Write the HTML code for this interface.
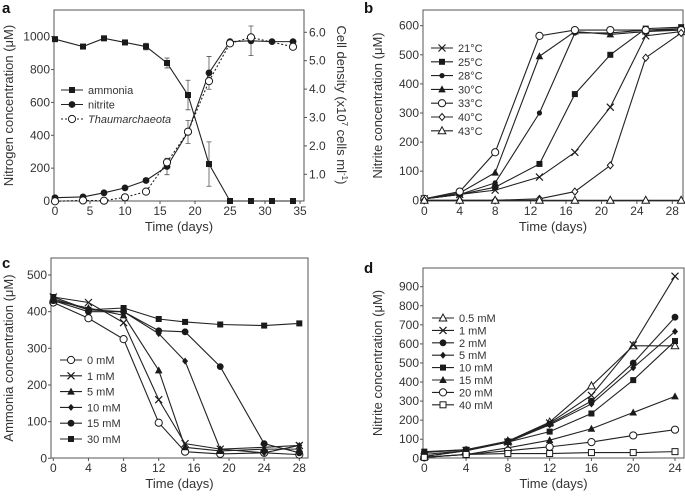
<!DOCTYPE html>
<html><head><meta charset="utf-8"><style>
body{margin:0;background:#fff}
svg{display:block;font-family:"Liberation Sans",sans-serif}
</style></head><body>
<svg id="s" width="685" height="497" viewBox="0 0 685 497"></svg>
<script>
// ---- Panel a data ----
const aDaysA=[0,4,7,10,13,16,19,22,25,28,31,34];
const aAmmonia=[985,940,990,965,940,840,645,225,0,0,0,0];
const aAmmErr=[0,0,0,0,20,30,90,135,0,0,0,0];
const aNitrite=[20,25,50,80,125,210,420,780,970,975,970,970];
const aNitErr=[0,0,0,0,0,50,70,100,0,90,0,0];
const aDaysT=[0,4,7,10,13,16,19,22,25,28,34];
const aThaum=[0.05,0.08,0.07,0.19,0.39,1.42,2.5,4.28,5.61,5.82,5.49];
const aXTicks=[0,5,10,15,20,25,30,35];
const aYTicks=[0,200,400,600,800,1000];
const aRTicks=[1,2,3,4,5,6];
// ---- Panel b data ----
const bDays=[0,4,8,13,17,21,25,29];
const bLabels=["21°C","25°C","28°C","30°C","33°C","40°C","43°C"];
const b21=[5,20,35,80,165,320,565,580];
const b25=[5,20,45,125,365,500,590,595];
const b28=[5,20,60,300,575,575,585,590];
const b30=[5,25,95,495,580,570,580,585];
const b33=[5,30,165,565,585,585,585,585];
const b40=[0,0,0,5,30,120,490,575];
const b43=[0,0,0,0,0,0,0,0];
const bXTicks=[0,4,8,12,16,20,24,28];
const bYTicks=[0,100,200,300,400,500,600];
// ---- Panel c data ----
const cDays=[0,4,8,12,15,19,24,28];
const cLabels=["0 mM","1 mM","5 mM","10 mM","15 mM","30 mM"];
const c0=[425,382,325,97,18,12,15,10];
const c1=[440,425,370,160,40,25,30,35];
const c5=[430,410,390,240,30,20,25,25];
const c10=[435,405,400,340,265,25,15,35];
const c15=[430,400,400,348,345,250,40,15];
const c30=[440,405,410,380,372,365,362,368];
const cXTicks=[0,4,8,12,16,20,24,28];
const cYTicks=[0,100,200,300,400,500];
// ---- Panel d data ----
const dDays=[0,4,8,12,16,20,24];
const dLabels=["0.5 mM","1 mM","2 mM","5 mM","10 mM","15 mM","20 mM","40 mM"];
const d05=[10,40,90,190,380,590,590];
const d1=[10,40,85,185,330,595,955];
const d2=[30,45,90,180,300,500,740];
const d5=[20,40,85,175,285,475,665];
const d10=[35,45,85,140,235,410,615];
const d15=[5,20,55,95,155,240,325];
const d20=[5,20,40,60,85,120,150];
const d40=[5,20,25,25,30,30,35];
const dXTicks=[0,4,8,12,16,20,24];
const dYTicks=[0,100,200,300,400,500,600,700,800,900];

const NS="http://www.w3.org/2000/svg";
const S=document.getElementById('s');
function el(tag,attrs,parent,text){const e=document.createElementNS(NS,tag);for(const k in attrs)e.setAttribute(k,attrs[k]);if(text!==undefined)e.textContent=text;(parent||S).appendChild(e);return e;}
function lin(d0,d1,p0,p1){return v=>p0+(v-d0)*(p1-p0)/(d1-d0);}

function marker(g,type,x,y){
  const c='#1a1a1a';
  let m;
  if(type==='sq'){m=el('rect',{x:x-3,y:y-3,width:6,height:6,fill:c},g);}
  else if(type==='osq'){m=el('rect',{x:x-3,y:y-3,width:6,height:6,fill:'#fff',stroke:c,'stroke-width':1},g);}
  else if(type==='ci'){m=el('circle',{cx:x,cy:y,r:3.4,fill:c},g);}
  else if(type==='oci'){m=el('circle',{cx:x,cy:y,r:3.6,fill:'#fff',stroke:c,'stroke-width':1},g);}
  else if(type==='sci'){m=el('circle',{cx:x,cy:y,r:2.6,fill:c},g);}
  else if(type==='tri'){m=el('polygon',{points:`${x},${y-4} ${x-3.8},${y+3} ${x+3.8},${y+3}`,fill:c},g);}
  else if(type==='otri'){m=el('polygon',{points:`${x},${y-4} ${x-3.8},${y+3} ${x+3.8},${y+3}`,fill:'#fff',stroke:c,'stroke-width':1},g);}
  else if(type==='dia'){m=el('polygon',{points:`${x},${y-3.5} ${x+3},${y} ${x},${y+3.5} ${x-3},${y}`,fill:c},g);}
  else if(type==='odia'){m=el('polygon',{points:`${x},${y-3.5} ${x+3},${y} ${x},${y+3.5} ${x-3},${y}`,fill:'#fff',stroke:c,'stroke-width':1},g);}
  else if(type==='x'){m=el('path',{d:`M${x-3.5},${y-3.5}L${x+3.5},${y+3.5}M${x-3.5},${y+3.5}L${x+3.5},${y-3.5}`,stroke:c,'stroke-width':1.2},g);}
  
  
}

function series(name,xs,ys,X,Y,type,dash,err){
  const g=el('g',{},S);
  
  
  if(err){xs.forEach((d,i)=>{if(err[i]>0){const px=X(d);el('path',{d:`M${px},${Y(ys[i]-err[i])}V${Y(ys[i]+err[i])}M${px-2.5},${Y(ys[i]-err[i])}h5M${px-2.5},${Y(ys[i]+err[i])}h5`,stroke:'#555','stroke-width':0.8,fill:'none'},g);}});}
  const pts=xs.map((d,i)=>X(d)+','+Y(ys[i])).join(' ');
  const pl=el('polyline',{points:pts,fill:'none',stroke:'#222','stroke-width':1.1,'stroke-dasharray':dash||'none'},g);
  
  
  xs.forEach((d,i)=>marker(g,type,X(d),Y(ys[i])));
}

function frame(name,l,t,r,b,X,Y,xt,yt,xtitle,ytitle,letter,lx){
  const g=el('g',{},S);
  
  
  el('rect',{x:l,y:t,width:r-l,height:b-t,fill:'none',stroke:'#555','stroke-width':1},g);
  xt.forEach(v=>{const x=X(v);el('line',{x1:x,x2:x,y1:b,y2:b+3,stroke:'#555'},g);
    const tx=el('text',{x:x,y:b+14,'font-size':12,'text-anchor':'middle',fill:'#333'},g,v);
    });
  yt.forEach(v=>{const y=Y(v);el('line',{x1:l-3,x2:l,y1:y,y2:y,stroke:'#555'},g);
    const tx=el('text',{x:l-4,y:y+4,'font-size':12,'text-anchor':'end',fill:'#333'},g,v);
    });
  const xtl=el('text',{x:(l+r)/2,y:b+30,'font-size':13,'text-anchor':'middle',fill:'#333'},g,xtitle);
  
  const ytl=el('text',{x:0,y:0,'font-size':13,'text-anchor':'middle',fill:'#333',transform:`translate(${lx},${(t+b)/2}) rotate(-90)`},g,ytitle);
  
  const lt=el('text',{x:letter[0],y:letter[1],'font-size':15,'font-weight':'bold',fill:'#111'},g,letter[2]);
  
}

function legend(name,x,y,step,labels,types,dashes,italic){
  const g=el('g',{},S);
  
  
  labels.forEach((lb,i)=>{const yy=y+i*step;
    const e=el('g',{},g);
    
    
    el('line',{x1:x,x2:x+22,y1:yy,y2:yy,stroke:'#222','stroke-width':1.1,'stroke-dasharray':dashes?dashes[i]:'none'},e);
    marker(e,types[i],x+11,yy);
    el('text',{x:x+27,y:yy+4,'font-size':11,fill:'#333','font-style':italic&&italic[i]?'italic':'normal'},e,lb);
  });
}

// Panel a
{const X=lin(0,35,55,300),Y=lin(0,1000,201,36.7),Yr=lin(0,6,202.7,32.3);
 frame('panel-a',54,10,304,201,X,Y,aXTicks,aYTicks,'Time (days)','Nitrogen concentration (μM)',[2,13,'a'],13);
 aRTicks.forEach(v=>{const y=Yr(v);el('line',{x1:304,x2:307,y1:y,y2:y,stroke:'#555'});
   const t=el('text',{x:309,y:y+4,'font-size':12,fill:'#333'},S,v.toFixed(1));
   });
 const rt=el('text',{x:0,y:0,'font-size':13,'text-anchor':'middle',fill:'#333',transform:'translate(337,105) rotate(90)'});
 rt.innerHTML='Cell density (x10<tspan font-size="8" dy="-5">7</tspan><tspan dy="5"> cells ml</tspan><tspan font-size="8" dy="-5">-1</tspan><tspan dy="5">)</tspan>';
 
 series('ammonia-series',aDaysA,aAmmonia,X,Y,'sq',null,aAmmErr);
 series('nitrite-series',aDaysA,aNitrite,X,Y,'ci',null,aNitErr);
 series('thaumarchaeota-series',aDaysT,aThaum,X,Yr,'oci','2,2',null);
 legend('legend-a',61,90,14.5,['ammonia','nitrite','Thaumarchaeota'],['sq','ci','oci'],['none','none','2,2'],[0,0,1]);
}
// Panel b
{const X=lin(0,28,424.3,672.3),Y=lin(0,600,200.3,25.7);
 frame('panel-b',423,10,683,201,X,Y,bXTicks,bYTicks,'Time (days)','Nitrite concentration (μM)',[364,13,'b'],382);
 const sets=[b21,b25,b28,b30,b33,b40,b43],types=['x','sq','sci','tri','oci','odia','otri'];
 sets.forEach((s,i)=>series('series-'+bLabels[i].replace('°C','c'),bDays,s,X,Y,types[i],null,null));
 legend('legend-b',431,48,13.8,bLabels,types);
}
// Panel c
{const X=lin(0,28,53.3,299.3),Y=lin(0,500,458.3,275);
 frame('panel-c',51,258,308,458,X,Y,cXTicks,cYTicks,'Time (days)','Ammonia concentration (μM)',[2,268,'c'],13);
 const sets=[c0,c1,c5,c10,c15,c30],types=['oci','x','tri','dia','ci','sq'];
 sets.forEach((s,i)=>series('series-'+cLabels[i].replace(' ','-'),cDays,s,X,Y,types[i],null,null));
 legend('legend-c',60,360,15.8,cLabels,types);
}
// Panel d
{const X=lin(0,24,424.3,675),Y=lin(0,900,458.3,286.7);
 frame('panel-d',423,268,684,458,X,Y,dXTicks,dYTicks,'Time (days)','Nitrite concentration (μM)',[364,273,'d'],382);
 const sets=[d05,d1,d2,d5,d10,d15,d20,d40],types=['otri','x','ci','dia','sq','tri','oci','osq'];
 sets.forEach((s,i)=>series('series-'+dLabels[i].replace(' ','-'),dDays,s,X,Y,types[i],null,null));
 legend('legend-d',432,318,12.4,dLabels,types);
}
</script>
</body></html>
